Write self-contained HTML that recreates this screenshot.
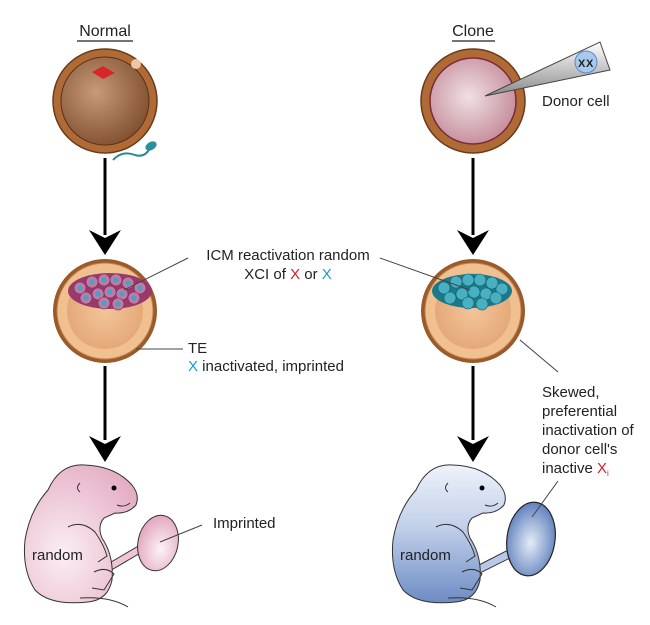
<!DOCTYPE html>
<html><head><meta charset="utf-8"><style>
html,body{margin:0;padding:0;background:#fff}
svg{display:block}
text{font-family:"Liberation Sans",Arial,sans-serif;fill:#222}
</style></head><body>
<svg width="650" height="625" viewBox="0 0 650 625" xmlns="http://www.w3.org/2000/svg">
<defs>
<radialGradient id="egg1" cx="0.4" cy="0.4" r="0.7"><stop offset="0" stop-color="#c89a7a"/><stop offset="1" stop-color="#7a4a2a"/></radialGradient>
<radialGradient id="egg2" cx="0.45" cy="0.45" r="0.6"><stop offset="0" stop-color="#f0e0e4"/><stop offset="1" stop-color="#c48a98"/></radialGradient>
<radialGradient id="blast" cx="0.5" cy="0.5" r="0.6"><stop offset="0" stop-color="#f3c49a"/><stop offset="1" stop-color="#e3a472"/></radialGradient>
<radialGradient id="pink" cx="0.35" cy="0.65" r="0.8"><stop offset="0" stop-color="#fbeef3"/><stop offset="1" stop-color="#e3aac2"/></radialGradient>
<linearGradient id="blue" x1="0" y1="0" x2="0" y2="1"><stop offset="0" stop-color="#eef2fa"/><stop offset="0.45" stop-color="#c2d0ea"/><stop offset="1" stop-color="#6d8cc4"/></linearGradient>
<radialGradient id="plp" cx="0.6" cy="0.6" r="0.6"><stop offset="0" stop-color="#fdf2f6"/><stop offset="1" stop-color="#e3aac2"/></radialGradient>
<radialGradient id="plb" cx="0.5" cy="0.55" r="0.6"><stop offset="0" stop-color="#e4ecf7"/><stop offset="1" stop-color="#5578b8"/></radialGradient>
<linearGradient id="pip" x1="0" y1="0" x2="0" y2="1"><stop offset="0" stop-color="#fff"/><stop offset="1" stop-color="#8a8a8a"/></linearGradient>
<g id="pup">
<path d="M48 490 Q60 463 85 465 Q115 466 132 485 Q140 495 136 505 Q128 514 115 513 L104 518 Q97 526 102 538 Q114 556 112 580 Q108 600 88 602 Q50 606 35 590 Q22 570 25 540 Q30 510 48 490 Z"/>
<path d="M80 598 Q110 596 128 607" fill="none"/>
<path d="M68 527 Q82 520 95 532 Q104 545 107 556 L98 562" fill="none"/>
<path d="M94 572 Q106 566 114 574 L104 590 L92 588" fill="none"/>
<circle cx="114" cy="488" r="2.5" fill="#000" stroke="none"/>
<path d="M80 483 Q75 488 80 492" fill="none"/>
<path d="M117 505 Q124 508 130 503" fill="none"/>
</g>
</defs>

<text x="105" y="36" font-size="16" text-anchor="middle">Normal</text>
<line x1="77" y1="41" x2="133" y2="41" stroke="#222" stroke-width="1.2"/>
<text x="473" y="36" font-size="16" text-anchor="middle">Clone</text>
<line x1="452" y1="41" x2="495" y2="41" stroke="#222" stroke-width="1.2"/>

<circle cx="105" cy="101" r="52" fill="#b06a35" stroke="#6b3a1a" stroke-width="1.5"/>
<circle cx="105" cy="101" r="44" fill="url(#egg1)" stroke="#5a3018" stroke-width="1"/>
<path d="M103 66 L115 73 L103 79 L92 72 Z" fill="#d7262a"/>
<circle cx="136" cy="64" r="5" fill="#f0c6a8"/>
<path d="M113 160 Q122 150 135 155 Q145 158 150 148" stroke="#2a8a9a" stroke-width="2" fill="none"/>
<ellipse cx="151" cy="146" rx="6" ry="4" fill="#2a8fa0" transform="rotate(-30 151 146)"/>

<circle cx="473" cy="101" r="52" fill="#b06a35" stroke="#6b3a1a" stroke-width="1.5"/>
<circle cx="473" cy="101" r="43" fill="url(#egg2)" stroke="#7a2a3a" stroke-width="1.5"/>
<path d="M485 96 L600 42 L610 70 Z" fill="url(#pip)" stroke="#444" stroke-width="1"/>
<circle cx="586" cy="62" r="11" fill="#a8c8ec" stroke="#5a8ac8" stroke-width="1"/>
<text x="578" y="67" font-size="11" fill="#d0202a" font-weight="bold">X</text>
<text x="586" y="67" font-size="11" fill="#1a9ad0" font-weight="bold">X</text>
<text x="542" y="106" font-size="15">Donor cell</text>

<line x1="105" y1="158" x2="105" y2="235" stroke="#000" stroke-width="3"/>
<path d="M89 230 L105 255 L121 230 L105 238 Z" fill="#000"/>
<line x1="473" y1="158" x2="473" y2="235" stroke="#000" stroke-width="3"/>
<path d="M457 230 L473 255 L489 230 L473 238 Z" fill="#000"/>

<g>
<circle cx="105" cy="311" r="52" fill="#9a5a2a"/>
<circle cx="105" cy="311" r="48" fill="#f0c090" stroke="#c08050" stroke-width="1"/>
<circle cx="105" cy="311" r="38" fill="url(#blast)"/>
<ellipse cx="110" cy="291" rx="42" ry="18" fill="#9a3a6a"/>
<g fill="#c07aa8" stroke="#7a2a5a" stroke-width="0.6">
<circle cx="80" cy="288" r="6"/><circle cx="92" cy="282" r="6"/><circle cx="104" cy="280" r="6"/><circle cx="116" cy="280" r="6"/><circle cx="128" cy="283" r="6"/><circle cx="140" cy="288" r="6"/>
<circle cx="86" cy="298" r="6"/><circle cx="98" cy="294" r="6"/><circle cx="110" cy="292" r="6"/><circle cx="122" cy="294" r="6"/><circle cx="134" cy="298" r="6"/><circle cx="104" cy="303" r="6"/><circle cx="118" cy="304" r="6"/>
</g>
<g fill="#3aa8c0">
<circle cx="80" cy="288" r="2.5"/><circle cx="92" cy="282" r="2.5"/><circle cx="104" cy="280" r="2.5"/><circle cx="116" cy="280" r="2.5"/><circle cx="128" cy="283" r="2.5"/><circle cx="140" cy="288" r="2.5"/>
<circle cx="86" cy="298" r="2.5"/><circle cx="98" cy="294" r="2.5"/><circle cx="110" cy="292" r="2.5"/><circle cx="122" cy="294" r="2.5"/><circle cx="134" cy="298" r="2.5"/><circle cx="104" cy="303" r="2.5"/><circle cx="118" cy="304" r="2.5"/>
</g>
</g>
<g>
<circle cx="473" cy="311" r="52" fill="#9a5a2a"/>
<circle cx="473" cy="311" r="48" fill="#f0c090" stroke="#c08050" stroke-width="1"/>
<circle cx="473" cy="311" r="38" fill="url(#blast)"/>
<ellipse cx="472" cy="291" rx="40" ry="17" fill="#1a7a8a"/>
<g fill="#48b0c0" stroke="#106070" stroke-width="0.6">
<circle cx="444" cy="288" r="6"/><circle cx="456" cy="282" r="6"/><circle cx="468" cy="280" r="6"/><circle cx="480" cy="280" r="6"/><circle cx="492" cy="283" r="6"/><circle cx="502" cy="289" r="6"/>
<circle cx="450" cy="298" r="6"/><circle cx="462" cy="294" r="6"/><circle cx="474" cy="292" r="6"/><circle cx="486" cy="294" r="6"/><circle cx="496" cy="298" r="6"/><circle cx="468" cy="303" r="6"/><circle cx="482" cy="304" r="6"/>
</g>
</g>

<text x="288" y="260" font-size="15" text-anchor="middle">ICM reactivation random</text>
<text x="288" y="279" font-size="15" text-anchor="middle">XCI of <tspan fill="#d0202a">X</tspan> or <tspan fill="#1a9ad0">X</tspan></text>
<line x1="124" y1="290" x2="188" y2="258" stroke="#444" stroke-width="1"/>
<line x1="470" y1="290" x2="380" y2="258" stroke="#444" stroke-width="1"/>
<text x="188" y="353" font-size="15">TE</text>
<text x="188" y="371" font-size="15"><tspan fill="#1a9ad0">X</tspan> inactivated, imprinted</text>
<line x1="136" y1="349" x2="183" y2="349" stroke="#444" stroke-width="1"/>

<line x1="105" y1="366" x2="105" y2="440" stroke="#000" stroke-width="3"/>
<path d="M89 436 L105 462 L121 436 L105 444 Z" fill="#000"/>
<line x1="473" y1="366" x2="473" y2="440" stroke="#000" stroke-width="3"/>
<path d="M457 436 L473 462 L489 436 L473 444 Z" fill="#000"/>

<text x="542" y="397" font-size="15">Skewed,</text>
<text x="542" y="416" font-size="15">preferential</text>
<text x="542" y="435" font-size="15">inactivation of</text>
<text x="542" y="454" font-size="15">donor cell's</text>
<text x="542" y="473" font-size="15">inactive <tspan fill="#d0202a">X</tspan><tspan font-size="8" fill="#d0202a" dy="3">i</tspan></text>
<line x1="520" y1="340" x2="558" y2="372" stroke="#444" stroke-width="1"/>

<path d="M106 565 L140 545 L142 552 L108 572 Z" fill="#efc4d6" stroke="#333" stroke-width="1"/>
<ellipse cx="158" cy="543" rx="20" ry="28" fill="url(#plp)" stroke="#333" stroke-width="1" transform="rotate(12 158 543)"/>
<g fill="url(#pink)" stroke="#333" stroke-width="1"><use href="#pup"/></g>
<text x="32" y="560" font-size="15" fill="#111">random</text>
<text x="213" y="528" font-size="15">Imprinted</text>
<line x1="160" y1="542" x2="202" y2="525" stroke="#444" stroke-width="1"/>

<path d="M475 567 L512 548 L514 556 L478 574 Z" fill="#b8c8e6" stroke="#333" stroke-width="1"/>
<ellipse cx="531" cy="539" rx="24" ry="37" fill="url(#plb)" stroke="#222" stroke-width="1.2" transform="rotate(8 531 539)"/>
<g fill="url(#blue)" stroke="#333" stroke-width="1" transform="translate(368 0)"><use href="#pup"/></g>
<text x="400" y="560" font-size="15" fill="#111">random</text>
<line x1="558" y1="481" x2="532" y2="517" stroke="#444" stroke-width="1"/>
</svg>
</body></html>
